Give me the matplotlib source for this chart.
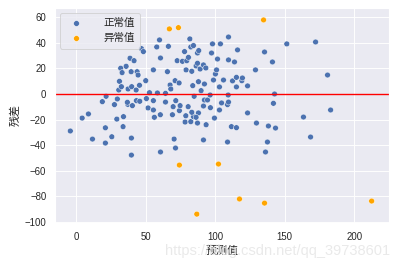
import numpy as np
import pandas as pd
import matplotlib
matplotlib.use("Agg")
import matplotlib.pyplot as plt
import seaborn as sns

# normal points: predicted value, residual
normal_x = [-4.1, 4.4, 8.9, 11.8, 18.9, 21.6, 21.1, 21.1, 25.7, 27.6, 29.7, 29.3, 30.7, 31.2,
            32.1, 33.1, 32.6, 34.1, 33.8, 36.0, 37.2, 37.4, 36.9, 38.8, 39.6, 40.0, 40.5, 39.8,
            39.8, 41.7, 43.2, 43.4, 43.9, 44.6, 45.6, 45.8, 47.0, 48.4, 50.1, 50.6, 51.8, 52.8,
            55.6, 55.6, 55.6, 56.3, 58.0, 58.5, 60.0, 60.7, 60.6, 60.7, 64.3, 64.3, 65.7, 66.4,
            67.6, 68.1, 69.3, 69.8, 70.5, 71.5, 71.2, 71.7, 72.7, 74.1, 74.3, 74.8, 76.5, 78.0,
            79.1, 79.6, 80.8, 78.4, 78.9, 80.6, 81.8, 82.5, 83.2, 83.9, 84.9, 82.5, 84.4, 83.2,
            84.4, 86.3, 87.3, 87.3, 88.2, 88.0, 88.0, 86.3, 87.3, 89.2, 89.9, 91.6, 91.6, 91.6,
            92.3, 92.3, 93.3, 93.5, 94.5, 96.4, 96.6, 97.4, 98.1, 98.8, 99.5, 100.2, 101.0, 101.7,
            103.1, 103.1, 103.8, 104.6, 106.0, 108.9, 108.9, 109.4, 109.6, 109.6, 109.6, 111.7,
            112.5, 113.9, 115.3, 115.3, 115.3, 116.1, 119.2, 119.6, 123.3, 123.3, 129.0, 129.7,
            135.5, 136.2, 137.6, 138.3, 141.2, 141.9, 142.7, 143.4, 151.5, 163.5, 168.6, 172.2,
            180.8, 183.0]
normal_y = [-28.9, -18.8, -15.6, -35.2, -6.0, -1.8, -26.4, -38.3, -33.4, -8.3, -3.9, -19.6, 3.1, 9.9,
            20.1, 16.7, 5.7, -17.7, -25.5, 21.6, -8.1, 3.9, -6.5, 27.9, 17.4, 5.7, -9.1, -34.4,
            -47.7, 26.0, 3.1, -5.2, 17.4, 14.8, 6.8, -5.7, 35.4, 33.1, 10.4, -3.6, -10.9, 1.0,
            18.8, -5.2, -12.5, -18.2, 36.7, 0.8, 42.2, 28.1, -16.2, -45.3, 0.5, -6.3, 17.4, 37.2,
            7.0, 3.9, -16.2, -9.9, -35.2, -42.2, 10.4, -5.2, 26.0, 8.6, -13.0, -9.1, 25.5, 33.1,
            18.8, 26.0, 28.6, -21.9, -17.0, -9.9, 43.0, 36.7, 17.7, 6.5, -1.8, -21.6, -17.7, -14.3,
            37.8, 21.9, 24.0, 32.0, 33.9, 9.6, -14.8, -18.2, -22.7, 19.5, 2.6, 22.7, -9.4, -35.9,
            7.8, -4.7, 20.3, -24.0, -4.7, -0.8, -10.7, 32.0, 39.1, 10.9, -18.8, 15.6, 18.8, 27.3,
            5.5, -12.5, 39.1, -7.0, 10.9, -8.3, -37.5, -0.8, 44.5, 26.6, -6.3, -25.5,
            10.2, 25.0, 13.0, 5.5, -26.3, 34.4, 10.4, 12.5, 6.3, -14.8, 18.8, -22.7,
            32.8, -45.3, -37.5, -25.0, 25.0, -7.3, 0.0, -26.6, 39.1, -18.0, -33.6, 40.6,
            14.8, -12.5]

# abnormal points
outlier_x = [67.1, 73.6, 134.8, 74.3, 86.8, 102.4, 117.5, 135.5, 212.5]
outlier_y = [50.8, 51.8, 57.8, -55.5, -93.8, -54.7, -82.0, -85.2, -83.6]

labels = ["正常值", "异常值"]
x_label = "预测值"
y_label = "残差"

df = pd.DataFrame({
    "x": normal_x + outlier_x,
    "y": normal_y + outlier_y,
    "kind": [labels[0]] * len(normal_x) + [labels[1]] * len(outlier_x),
})

sns.set_theme(style="darkgrid")
plt.rcParams["font.family"] = ["Liberation Sans", "Noto Sans CJK SC", "DejaVu Sans"]
plt.rcParams["axes.unicode_minus"] = True

fig = plt.figure(figsize=(6, 4), dpi=66)
ax = fig.add_axes([0.139, 0.155, 0.843, 0.815])
sns.scatterplot(data=df, x="x", y="y", hue="kind",
                palette=["#4c72b0", "orange"], s=40, ax=ax)
ax.axhline(0, color="red", linewidth=1.5)
ax.set_xlim(-15.1, 224.9)
ax.set_ylim(-100.8, 67.2)
ax.set_xticks([0, 50, 100, 150, 200])
ax.set_yticks([-100, -80, -60, -40, -20, 0, 20, 40, 60])
ax.tick_params(labelsize=10.5)
ax.set_xlabel(x_label, fontsize=12)
ax.set_ylabel(y_label, fontsize=12)
ax.legend(loc="upper left", title=None, fontsize=11.5, handletextpad=1.6,
          borderpad=0.5, labelspacing=0.45)

fig.text(0.985, 0.022, "https://blog.csdn.net/qq_39738601", ha="right", va="bottom",
         fontsize=16, color="#e6e6e6", alpha=0.85, zorder=0)

fig.savefig("out.png", dpi=66)
